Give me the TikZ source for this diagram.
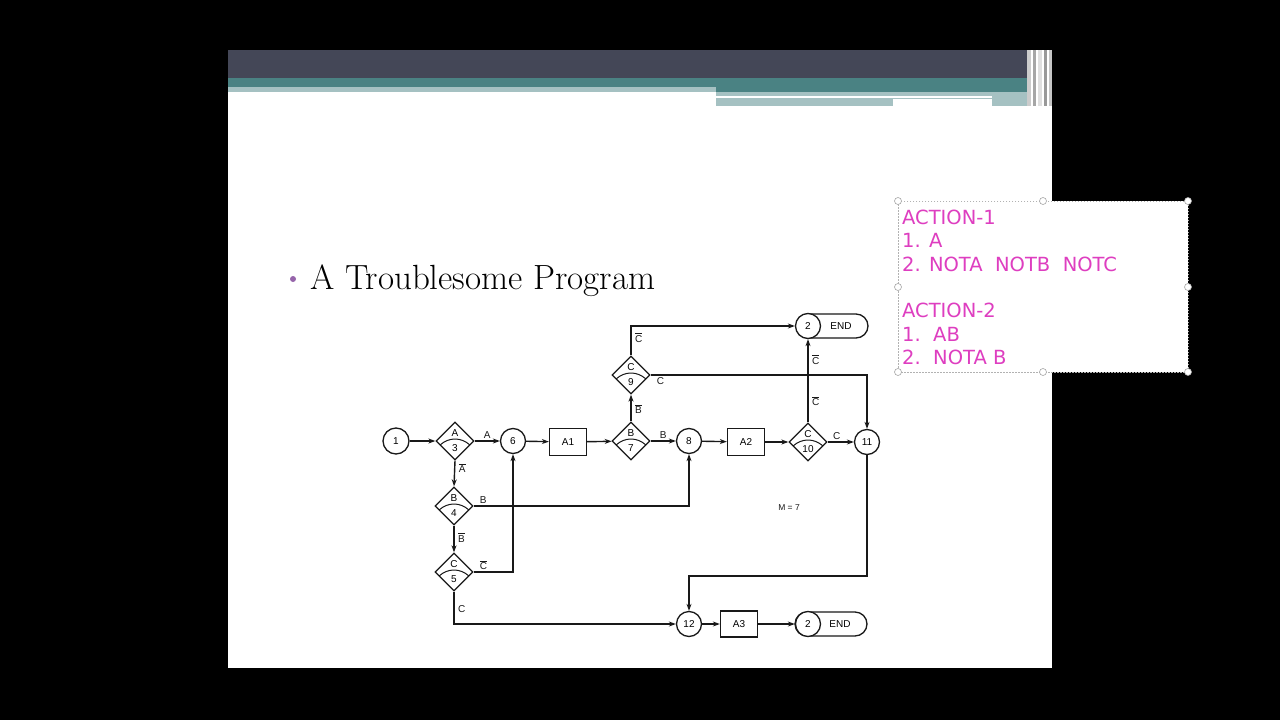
\documentclass[tikz,border=0pt]{standalone}
\usepackage{amsmath}
\usepackage{fontspec}
\setsansfont{Liberation Sans}
\newfontfamily\notefont{DejaVu Sans}
\usepackage{xcolor}
\usetikzlibrary{positioning,arrows.meta,shapes.geometric,calc}

\definecolor{slidebar}{RGB}{68,71,87}
\definecolor{slideteal}{RGB}{74,130,131}
\definecolor{slidemist}{RGB}{165,193,194}
\definecolor{notepink}{RGB}{222,62,192}
\definecolor{bulletpurple}{RGB}{150,100,170}
\definecolor{ink}{RGB}{25,25,25}
\newcommand{\nt}[1]{\setbox0\hbox{#1}\rlap{\raisebox{\dimexpr\ht0+1.2pt\relax}{\rule{\wd0}{0.7pt}}}\box0}

\begin{document}
\begin{tikzpicture}[
  x=1pt, y=-1pt,
  font=\sffamily\fontsize{10}{12}\selectfont,
  conn/.style={draw=ink, circle, fill=white, minimum size=25pt, inner sep=0pt, line width=1.3pt},
  task/.style={draw=ink, rectangle, minimum width=37pt, minimum height=27pt, inner sep=0pt, line width=1.3pt},
  dec/.style={draw=ink, diamond, minimum width=38pt, minimum height=38pt, inner sep=0pt, align=center,
              line width=1.3pt, font=\sffamily\fontsize{10}{15}\selectfont},
  term/.style={draw=ink, rounded corners=12pt, minimum width=72pt, minimum height=24pt, inner sep=0pt, line width=1.3pt},
  lbl/.style={text=ink, inner sep=1.5pt},
  arr/.style={-{Stealth[length=7pt, width=5pt]}, draw=ink, line width=1.4pt},
  handle/.style={draw=gray!70, fill=white, circle, minimum size=7pt, inner sep=0pt, line width=0.6pt},
]
\useasboundingbox (0,0) rectangle (1280,720);

% --- Slide ---
\fill[black] (0,0) rectangle (1280,720);
\fill[white] (228,50) rectangle (1052,668);
\fill[slidebar] (228,50) rectangle (1030,78);
\fill[slideteal] (228,78) rectangle (1030,87);
\fill[slidemist] (228,87) rectangle (716,92);
\fill[slideteal] (716,87) rectangle (1030,92);
\fill[slidemist] (716,92) rectangle (1030,106);
\fill[white] (716,96) rectangle (992,98);
\fill[white] (893,99) rectangle (992,106);
\fill[gray!40] (1027,50) rectangle (1031,106);
\fill[gray!70] (1033,50) rectangle (1036,106);
\fill[gray!25] (1038,50) rectangle (1042,106);
\fill[gray!80] (1044,50) rectangle (1047,106);
\fill[gray!45] (1049,50) rectangle (1052,106);

% --- Title ---
\fill[bulletpurple] (293,279) circle (3pt);
\node[anchor=base west, inner sep=0pt, font=\rmfamily\fontsize{35}{40}\selectfont] (title) at (310,289) {A Troublesome Program};

% --- Main row ---
\node[conn, minimum size=26pt] (n1) at (396,441) {1};
\node[dec] (d3) at (455,441) {A\\3};
\node[conn] (c6) at (513,441) {6};
\node[task] (a1) at (568,442) {A1};
\node[dec] (d7) at (631,441) {B\\7};
\node[conn] (c8) at (689,441) {8};
\node[task] (a2) at (746,442) {A2};
\node[dec] (d10) at (808,442) {C\\10};
\node[conn] (c11) at (867,442) {11};

% --- Upper branch ---
\node[dec] (d9) at (631,375) {C\\9};
\node[term] (e1) at (832,326) {\hspace{18pt}END};
\node[conn] (e1c) at (808,326) {2};

% --- Lower branch ---
\node[dec] (d4) at (454,506) {B\\4};
\node[dec] (d5) at (454,572) {C\\5};
\node[conn] (c12) at (689,624) {12};
\node[task, minimum height=26pt] (a3) at (739,624) {A3};
\node[term] (e2) at (831,624) {\hspace{18pt}END};
\node[conn] (e2c) at (808,624) {2};
\coordinate (turn) at (780,576);

\node[lbl, font=\sffamily\fontsize{8.5}{10}\selectfont] (m) at (789,508) {M = 7};

% --- Arcs in the decisions ---
\foreach \d in {d3,d4,d5,d7,d9,d10}
  \draw[draw=ink, line width=1pt] ($(\d.center)+(-15,4)$) .. controls ($(\d.center)+(-6,-4)$) and ($(\d.center)+(6,-4)$) .. ($(\d.center)+(15,4)$);

% --- Edges ---
\draw[arr] (n1) -- (d3);
\draw[arr] (d3) -- node[lbl, above] {A} (c6);
\draw[arr] (c6) -- (a1);
\draw[arr] (a1) -- (d7);
\draw[arr] (d7) -- node[lbl, above] {B} (c8);
\draw[arr] (c8) -- (a2);
\draw[arr] (a2) -- (d10);
\draw[arr] (d10) -- node[lbl, above, xshift=-4pt] {C} (c11);

\draw[arr] (d3.south) -- node[lbl, right, pos=0.3, xshift=2pt] {\nt{A}} (d4.north);
\draw[arr] (d4.south) -- node[lbl, right, pos=0.45, xshift=2pt] {\nt{B}} (d5.north);
\draw[arr] (d4.east) -| node[lbl, above right, pos=0, xshift=4pt] {B} (c8.south);
\draw[arr] (d5.east) -| node[lbl, above right, pos=0, xshift=4pt] {\nt{C}} (c6.south);
\draw[arr] (d5.south) |- node[lbl, right, pos=0.27, xshift=2pt] {C} (c12.west);

\draw[arr] (d7.north) -- node[lbl, right, pos=0.45, xshift=2pt] {\nt{B}} (d9.south);
\draw[arr] (d9.north) |- node[lbl, right, pos=0.3, xshift=2pt] {\nt{C}} (e1c.west);
\draw[arr] (d9.east) -| node[lbl, below right, pos=0, xshift=4pt] {C} (c11.north);
\draw[arr] (d10.north) -- node[lbl, right, pos=0.25, xshift=2pt] {\nt{C}} node[lbl, right, pos=0.75, xshift=2pt] {\nt{C}} (e1c.south);

\draw[draw=ink, line width=1.4pt] (c11.south) |- (turn);
\draw[arr] (turn) -| (c12.north);
\draw[arr] (c12) -- (a3);
\draw[arr] (a3) -- (e2c);

% --- Note box ---
\draw[gray!60, dash pattern=on 1.5pt off 1.5pt, line width=0.7pt, fill=white] (898,201) rectangle (1188,372);
\foreach \hx/\hy [count=\i] in {898/201, 1043/201, 1188/201, 898/287, 1188/287, 898/372, 1043/372, 1188/372}
  \node[handle] (h\i) at (\hx,\hy) {};
\node[anchor=north west, inner sep=0pt, align=left, text=notepink,
      font=\notefont\fontsize{19.5}{23.3}\selectfont] (note) at (902,210)
  {ACTION-1\\1. A\\2. NOTA\ \ NOTB\ \ NOTC\\[23.3pt]ACTION-2\\1.\ \ AB\\2.\ \ NOTA B};

\end{tikzpicture}
\end{document}
